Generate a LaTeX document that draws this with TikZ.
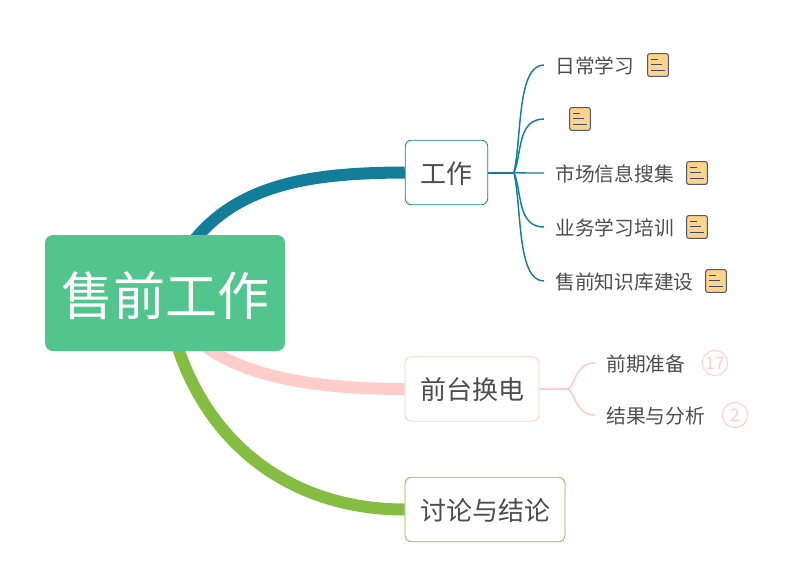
\documentclass[tikz,border=0pt]{standalone}
\usepackage{fontspec}
\setmainfont{Noto Sans CJK SC}
\definecolor{rootgreen}{HTML}{52C48E}
\definecolor{workblue}{HTML}{127E9A}
\definecolor{frontpink}{HTML}{FFCCCC}
\definecolor{discgreen}{HTML}{84BD42}
\definecolor{inktext}{HTML}{4D4D4D}
\definecolor{notefill}{HTML}{FBD38A}
\definecolor{noteedge}{HTML}{55566A}
\definecolor{noteline}{HTML}{3F4A6B}
\tikzset{
	roottopic/.style={fill=rootgreen,rounded corners=6pt,minimum width=180pt,minimum height=87pt,inner sep=0pt,text height=33pt,text depth=0pt,text=white,font=\fontsize{39}{39}\selectfont},
	maintopic/.style={draw=#1,fill=white,line width=.6pt,rounded corners=5pt,minimum height=48.5pt,inner sep=0pt,text depth=0pt,text=inktext,font=\fontsize{19.5}{19.5}\selectfont},
	subtopic/.style={anchor=west,inner xsep=8.4pt,inner ysep=0pt,text depth=0pt,text=inktext,font=\fontsize{14.8}{14.8}\selectfont},
	notebox/.style={draw=noteedge,fill=notefill,line width=.8pt,rounded corners=1.5pt,minimum width=15.5pt,minimum height=17pt,inner sep=0pt},
	countmark/.style={draw=frontpink,circle,line width=.7pt,minimum size=19pt,inner sep=0pt,text=frontpink,font=\fontsize{13}{13}\selectfont},
	bigbranch/.style={line width=9pt},
}
\begin{document}
\begin{tikzpicture}[x=.75pt,y=-.75pt]
\useasboundingbox (0,0) rectangle (789,586);

\node [maintopic=workblue,minimum width=62pt] (work) at (446.5,172.5) {工作};
\node [maintopic=frontpink,minimum width=100.5pt] (front) at (472,389) {前台换电};
\node [maintopic=discgreen,minimum width=120pt] (disc) at (485,509.5) {讨论与结论};
\coordinate (center) at (165,293);

\draw [bigbranch,workblue] (center) .. controls (205,185) and (300,173) .. (work.west);
\draw [bigbranch,frontpink] (center) .. controls (190,365) and (280,389) .. (front.west);
\draw [bigbranch,discgreen] (center) .. controls (185,430) and (280,509.5) .. (disc.west);
\node [roottopic] (root) at (165,293) {售前工作};

\coordinate (workhub) at (514,172.5);
\coordinate (fronthub) at (566,389);
\draw [workblue,line width=1.5pt] (work.east) -- (workhub);
\draw [frontpink,line width=1.2pt] (front.east) -- (fronthub);

\foreach \n / \y / \t / \i in {
				daily/65/日常学习/658,
				blank/119/{}/580,
				market/173/市场信息搜集/697,
				train/227/业务学习培训/697,
				base/281/售前知识库建设/716%
						}
	{%
		\node [subtopic] (\n) at (544,\y) {\t};
		\draw [workblue,line width=1.1pt] (workhub) .. controls (522,{173+(\y-173)*.35}) and (517,\y) .. (\n.west);
		\node [notebox] (\n note) at (\i,\y) {};
		\draw [noteline,line width=.8pt] (\i-7,\y-5.3) -- (\i+0,\y-5.3);
		\draw [noteline,line width=.8pt] (\i-7,\y-.3) -- (\i+4,\y-.3);
		\draw [noteline,line width=.8pt] (\i-7,\y+5.3) -- (\i+7,\y+5.3);
	}

\foreach \n / \y / \t / \i / \c in {
				prep/363/前期准备/715/17,
				result/415/结果与分析/735/2%
						}
	{%
		\node [subtopic] (\n) at (595,\y) {\t};
		\draw [frontpink,line width=1.2pt] (fronthub) .. controls (576,389) and (573,\y) .. (\n.west);
		\node [countmark] (\n count) at (\i,\y) {\c};
	}

\end{tikzpicture}
\end{document}
